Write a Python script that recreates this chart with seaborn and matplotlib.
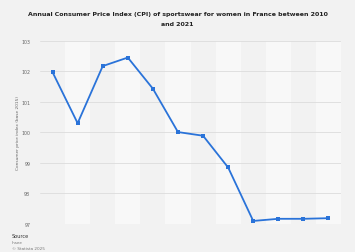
import numpy as np
import pandas as pd
import seaborn as sns
import matplotlib.pyplot as plt

# Data
years = [2010, 2011, 2012, 2013, 2014, 2015, 2016, 2017, 2018, 2019, 2020, 2021]
cpi = [101.97, 100.30, 102.17, 102.45, 101.43, 100.01, 99.89, 98.85, 97.10, 97.17, 97.17, 97.19]
y_ticks = [97, 98, 99, 100, 101, 102, 103]

df = pd.DataFrame({"Year": years, "CPI": cpi})
df["pos"] = np.arange(len(df))

# Figure
sns.set_style("white")
plt.rcParams['font.family'] = ['DejaVu Sans']
fig = plt.figure(figsize=(3.55, 2.53), dpi=100, facecolor="#f2f2f2")
ax = fig.add_axes([0.1127, 0.1107, 0.8479, 0.7243])
ax.set_facecolor("#f2f2f2")

# alternating column bands
for i in df["pos"]:
    if i % 2 == 1:
        ax.axvspan(i - 0.5, i + 0.5, color="#f8f8f8", zorder=0, lw=0)

for t in y_ticks:
    ax.axhline(t, color="#dcdcdc", lw=0.6, zorder=1)

sns.lineplot(data=df, x="pos", y="CPI", ax=ax, color="#2a73d9", lw=1.3,
             marker="s", markersize=2.6, markeredgewidth=0, zorder=3)

ax.set_xlim(-0.5, len(df) - 0.5)
ax.set_ylim(97, 103)
ax.set_yticks(y_ticks)
ax.set_yticklabels([str(t) for t in y_ticks], fontsize=3.4, color="#666666")
ax.set_xticks([])
ax.tick_params(axis="y", length=0, pad=7)
ax.set_xlabel("")
ax.set_ylabel("Consumer price index (base 2015)", fontsize=3.1, color="#666666", labelpad=1)
for s in ax.spines.values():
    s.set_visible(False)

fig.text(0.5, 0.922, "Annual Consumer Price Index (CPI) of sportswear for women in France between 2010\nand 2021",
         ha="center", va="center", fontsize=4.5, color="#222222", fontweight="bold", linespacing=2.3)

fig.text(0.034, 0.067, "Source", fontsize=3.6, color="#333333", va="center")
fig.text(0.034, 0.040, "Insee", fontsize=3.0, color="#777777", va="center")
fig.text(0.034, 0.016, "© Statista 2025", fontsize=3.0, color="#777777", va="center")

fig.savefig("out.png", dpi=100, facecolor=fig.get_facecolor())
